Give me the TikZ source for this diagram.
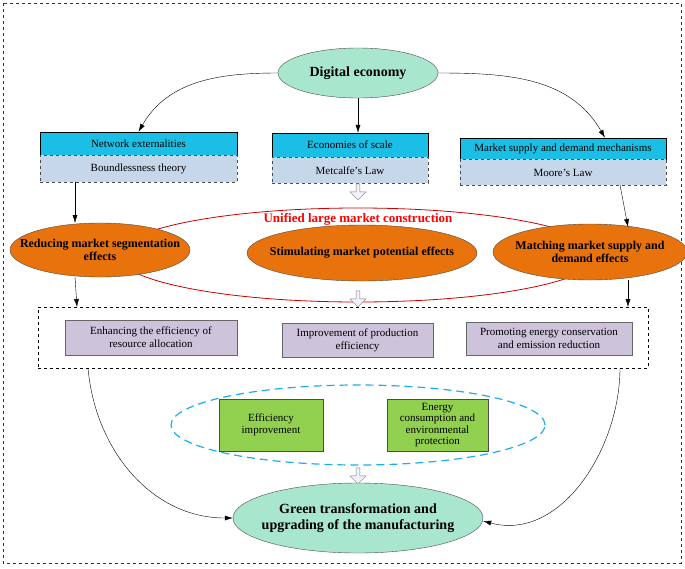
\documentclass[tikz,border=0pt]{standalone}
\usepackage{fontspec}
\setmainfont{Liberation Serif}
\usetikzlibrary{shapes.geometric,arrows.meta,shapes.arrows}
\definecolor{mint}{HTML}{A9E6CE}
\definecolor{cyanb}{HTML}{1BBFE6}
\definecolor{lblue}{HTML}{C5D7E8}
\definecolor{orng}{HTML}{E8720C}
\definecolor{purp}{HTML}{CDC3DA}
\definecolor{grn}{HTML}{92D050}
\definecolor{dblue}{HTML}{1BAEE8}
\begin{document}
\begin{tikzpicture}[x=1pt,y=-1pt,
 arr/.style={-{Latex[length=8pt,width=5pt]},black,thin},
 ell/.style={ellipse,draw=black!70,inner xsep=-40pt,inner ysep=-8pt,align=center,font=\fontsize{12}{13}\selectfont\bfseries},
 top/.style={draw=black,fill=cyanb,minimum height=23pt,font=\fontsize{11}{13}\selectfont,inner sep=0pt},
 bot/.style={draw=black!70,dashed,fill=lblue,font=\fontsize{11}{13}\selectfont,inner sep=0pt},
 pbox/.style={draw=black!60,fill=purp,align=center,font=\fontsize{11}{13}\selectfont,inner sep=0pt},
 gbox/.style={draw=black!70,fill=grn,align=center,font=\fontsize{11}{11.5}\selectfont,inner sep=0pt,minimum width=104pt,minimum height=52pt},
 hol/.style={single arrow,draw=black!50,fill=blue!5,single arrow head extend=4pt,minimum height=16pt,minimum width=16pt,inner sep=1pt,shape border rotate=270}]
\useasboundingbox (0,0) rectangle (685,568);
\draw[dashed,black!80] (3,3) rectangle (681,563);
\node[ell,fill=mint,minimum width=160pt,minimum height=50pt,font=\fontsize{14}{16}\selectfont\bfseries] (de) at (358,73) {Digital economy};
\node[top,minimum width=197pt] (t1) at (138.5,143.5) {Network externalities};
\node[bot,minimum width=197pt,minimum height=27pt,anchor=north] (b1) at (t1.south) {Boundlessness theory};
\node[top,minimum width=156pt,minimum height=24pt] (t2) at (350,145) {Economies of scale};
\node[bot,minimum width=156pt,minimum height=26pt,anchor=north] (b2) at (t2.south) {Metcalfe's Law};
\node[top,minimum width=206pt,minimum height=21pt] (t3) at (563,148.5) {Market supply and demand mechanisms};
\node[bot,minimum width=206pt,minimum height=26pt,anchor=north] (b3) at (t3.south) {Moore's Law};
\draw[arr] (de.west) to[out=180,in=60] (t1.north);
\draw[arr] (de.south) -- (de.south|-t2.north);
\draw[arr] (de.east) to[out=0,in=120] ([xshift=42pt]t3.north);
\node[hol] (h1) at (358,191) {};
\node[ellipse,draw=red!80!black,thick,minimum width=480pt,minimum height=94pt] (red) at (358,255) {};
\node[text=red,font=\fontsize{13}{15}\selectfont\bfseries] (lab) at (358,219) {Unified large market construction};
\node[ell,fill=orng,minimum width=180pt,minimum height=54pt] (o1) at (100,250) {Reducing market segmentation\\effects};
\node[ell,fill=orng,minimum width=230pt,minimum height=56pt] (o2) at (362,253) {Stimulating market potential effects};
\node[ell,fill=orng,minimum width=194pt,minimum height=56pt] (o3) at (590,252) {Matching market supply and\\demand effects};
\coordinate (a1) at (75,182); \coordinate (a2) at (75,223);
\draw[arr] (a1) -- (a2);
\coordinate (a3) at (620,185); \coordinate (a4) at (628,227);
\draw[arr] (a3) -- (a4);
\node[draw=black,dashed,minimum width=610pt,minimum height=61pt,inner sep=0pt] (dr) at (343,337.5) {};
\coordinate (a5) at (75,277); \coordinate (a6) at (77,307);
\draw[arr] (a5) -- (a6);
\coordinate (a7) at (628,280); \coordinate (a8) at (628,307);
\draw[arr] (a7) -- (a8);
\node[hol] (h2) at (358,298) {};
\node[pbox,minimum width=172pt,minimum height=35pt] (p1) at (151,337.5) {Enhancing the efficiency of\\resource allocation};
\node[pbox,minimum width=151pt,minimum height=34pt] (p2) at (357.5,340) {Improvement of production\\efficiency};
\node[pbox,minimum width=166pt,minimum height=33pt] (p3) at (549,338.5) {Promoting energy conservation\\and emission reduction};
\node[ellipse,draw=dblue,very thick,dash pattern=on 8pt off 5pt,minimum width=374pt,minimum height=80pt] (be) at (358,425) {};
\node[gbox] (g1) at (271,425) {Efficiency\\improvement};
\node[gbox,minimum width=101pt] (g2) at (437.5,425) {Energy\\consumption and\\environmental\\protection};
\node[hol] (h3) at (358,475) {};
\node[ell,fill=mint,minimum width=250pt,minimum height=70pt,font=\fontsize{14}{16}\selectfont\bfseries] (ge) at (358,518) {Green transformation and\\upgrading of the manufacturing};
\coordinate (c1) at (88,368); \coordinate (c2) at (620,368);
\draw[arr] (c1) to[out=-85,in=180] (ge.west);
\draw[arr] (c2) to[out=-90,in=-15] ([yshift=-3pt]ge.east);
\end{tikzpicture}
\end{document}
